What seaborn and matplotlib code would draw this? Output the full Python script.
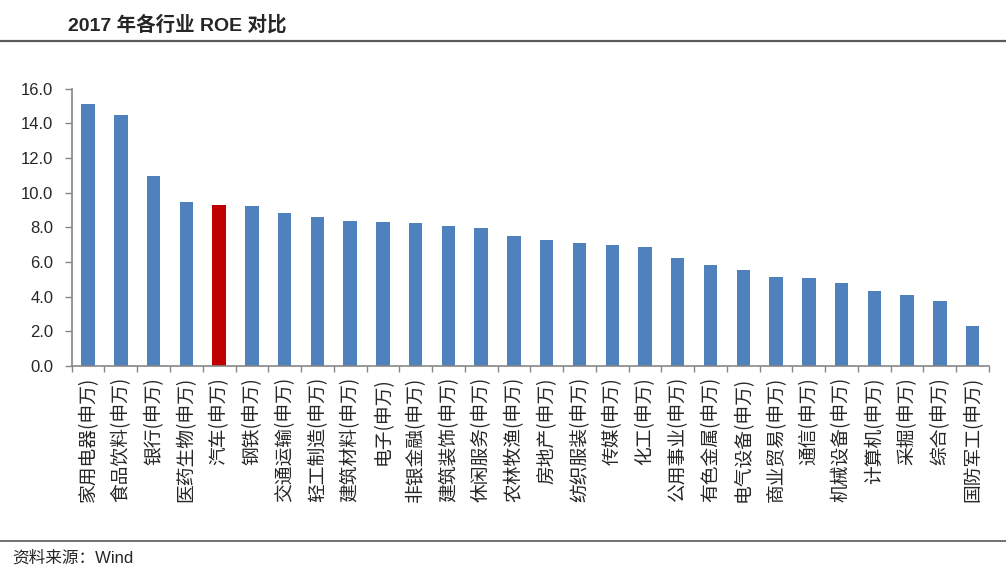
import numpy as np
import pandas as pd
import matplotlib
matplotlib.use("Agg")
import matplotlib.pyplot as plt
from matplotlib.lines import Line2D
from matplotlib.ticker import FormatStrFormatter
import seaborn as sns

industries = ["家用电器(申万)", "食品饮料(申万)", "银行(申万)", "医药生物(申万)", "汽车(申万)",
              "钢铁(申万)", "交通运输(申万)", "轻工制造(申万)", "建筑材料(申万)", "电子(申万)",
              "非银金融(申万)", "建筑装饰(申万)", "休闲服务(申万)", "农林牧渔(申万)", "房地产(申万)",
              "纺织服装(申万)", "传媒(申万)", "化工(申万)", "公用事业(申万)", "有色金属(申万)",
              "电气设备(申万)", "商业贸易(申万)", "通信(申万)", "机械设备(申万)", "计算机(申万)",
              "采掘(申万)", "综合(申万)", "国防军工(申万)"]
roe = [15.10, 14.48, 10.98, 9.44, 9.27, 9.21, 8.83, 8.60, 8.37, 8.33,
       8.25, 8.06, 7.94, 7.50, 7.27, 7.10, 7.00, 6.87, 6.25, 5.81,
       5.54, 5.12, 5.06, 4.77, 4.35, 4.10, 3.75, 2.29]
highlight = "汽车(申万)"
yticks = [0, 2, 4, 6, 8, 10, 12, 14, 16]

BLUE = "#4F81BD"
RED = "#C00000"
AXIS_GRAY = "#868686"

sns.set_style("white")
plt.rcParams["font.family"] = ["Liberation Sans", "Noto Sans CJK SC", "DejaVu Sans"]

W, H = 1006, 578
fig = plt.figure(figsize=(W / 100, H / 100), dpi=100)
ax = fig.add_axes([71.7 / W, 1 - 366 / H, (989 - 71.7) / W, (366 - 88.7) / H])

df = pd.DataFrame({"industry": industries, "roe": roe})
palette = {c: (RED if c == highlight else BLUE) for c in industries}
sns.barplot(data=df, x="industry", y="roe", hue="industry", palette=palette,
            legend=False, width=0.41, saturation=1, ax=ax, edgecolor="none")

ax.set_xlim(-0.5, len(industries) - 0.5)
ax.set_ylim(0, 16)
ax.set_yticks(yticks)
ax.yaxis.set_major_formatter(FormatStrFormatter("%.1f"))
ax.set_xticks(range(len(industries)))
ax.set_xticklabels(industries, rotation=90, fontsize=13.5,
                   family=["Noto Sans CJK SC", "DejaVu Sans"])
ax.set_xticks(np.arange(-0.5, len(industries), 1), minor=True)
ax.tick_params(axis="x", which="both", bottom=True, top=False)
ax.tick_params(axis="y", which="both", left=True, right=False)
ax.tick_params(axis="x", which="major", length=0, pad=8)
ax.tick_params(axis="x", which="minor", length=4.5, width=1, color=AXIS_GRAY, direction="out")
ax.tick_params(axis="y", length=4.8, width=1, color=AXIS_GRAY, pad=8.5, labelsize=12, direction="out")
ax.set_xlabel("")
ax.set_ylabel("")
sns.despine(ax=ax)
for s in ("left", "bottom"):
    ax.spines[s].set_color(AXIS_GRAY)
    ax.spines[s].set_linewidth(1.2)

fig.text(68 / W, 1 - 25 / H, "2017 年各行业 ROE 对比", fontsize=14, fontweight="bold",
         ha="left", va="center", family=["Liberation Sans", "Noto Sans CJK SC"])
fig.add_artist(Line2D([0, 1], [1 - 41 / H] * 2, transform=fig.transFigure,
                      color="#5a5a5a", lw=1.6))
fig.add_artist(Line2D([0, 1], [1 - 541 / H] * 2, transform=fig.transFigure,
                      color="#5a5a5a", lw=1.2))
fig.text(12 / W, 1 - 558 / H, "资料来源：Wind", fontsize=12, ha="left", va="center",
         family=["Liberation Sans", "Noto Sans CJK SC"])

fig.savefig("out.png", dpi=100)
